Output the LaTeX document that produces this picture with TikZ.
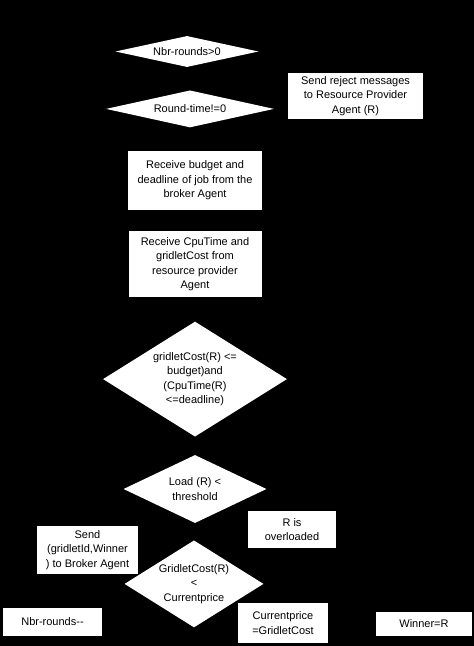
\documentclass[tikz,border=0pt]{standalone}
\usepackage{fontspec}
\setmainfont{Liberation Sans}
\usetikzlibrary{arrows.meta, positioning, shapes.geometric}
\tikzstyle{block} = [rectangle, fill=white, inner sep=1pt, align=center,
  font=\fontsize{11}{14.5}\selectfont]
\tikzstyle{decision} = [diamond, fill=white, inner sep=0pt, align=center,
  font=\fontsize{11}{14.5}\selectfont]
\tikzstyle{arrow} = [black, thin, -{Stealth[length=4pt, width=4pt]}]

\begin{document}
\begin{tikzpicture}[x=1pt, y=-1pt]
    \useasboundingbox (0,0) rectangle (474,646);
    \fill[black] (0,0) rectangle (474,646);
    % main column
    \node[decision, aspect=4.6, minimum width=143pt, minimum height=31pt] (n0) at (187,51.5) {Nbr-rounds>0};
    \node[decision, below=23pt of n0, xshift=3pt, aspect=4.5, minimum width=168pt, minimum height=37pt] (n1) {Round-time!=0};
    \node[block, below=23pt of n1, xshift=5pt, minimum width=134pt, minimum height=59pt] (n2) {Receive budget and\\deadline of job from the\\broker Agent};
    \node[block, below=21pt of n2, minimum width=133pt, minimum height=66pt] (n3) {Receive CpuTime and\\gridletCost from\\resource provider\\Agent};
    \node[decision, below=24pt of n3, aspect=1.6, inner sep=-3pt, minimum width=184pt, minimum height=115pt] (n4) {gridletCost(R) <=\\budget)and\\(CpuTime(R)\\<=deadline)};
    \node[decision, below=18pt of n4, aspect=2.1, minimum width=143pt, minimum height=68pt] (n5) {Load (R) <\\threshold};
    \node[decision, below=17pt of n5, xshift=-1pt, aspect=1.6, minimum width=139pt, minimum height=87pt] (n6) {GridletCost(R)\\<\\Currentprice};
    % side boxes
    \node[block, minimum width=135pt, minimum height=46pt] (n7) at (355.5,96) {Send reject messages\\to Resource Provider\\Agent (R)};
    \node[block, minimum width=88pt, minimum height=37pt] (n8) at (292,529.5) {R is\\overloaded};
    \node[block, minimum width=101pt, minimum height=48pt] (n9) at (87.5,550) {Send\\(gridletId,Winner\\) to Broker Agent};
    \node[block, minimum width=99pt, minimum height=28pt] (n10) at (52.5,622) {Nbr-rounds{-}{-}};
    \node[block, minimum width=90pt, minimum height=40pt] (n11) at (283,623) {Currentprice\\=GridletCost};
    \node[block, minimum width=96pt, minimum height=24pt] (n12) at (424,624) {Winner=R};
    % connectors (black on black)
    \draw[arrow] (n0) -- (n1);
    \draw[arrow] (n0.east) -| ([xshift=41pt]n7.north west);
    \draw[arrow] (n5) -- (n6);
  \end{tikzpicture}
\end{document}
